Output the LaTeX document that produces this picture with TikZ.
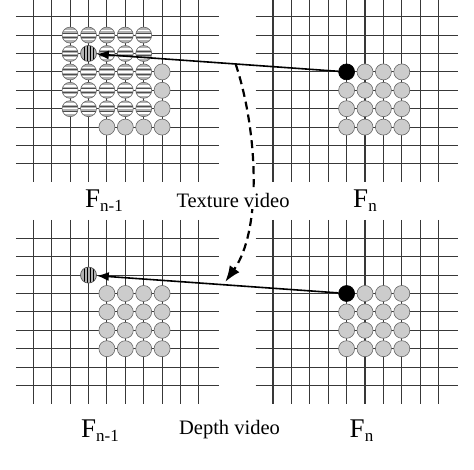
\documentclass[tikz,border=0pt]{standalone}
\usepackage{fontspec}
\setmainfont{Liberation Serif}
\usetikzlibrary{arrows.meta,calc}

% frame label F with lowered index
\newcommand{\frm}[1]{{\fontsize{27}{30}\selectfont F}\raisebox{-4pt}{\fontsize{17}{20}\selectfont #1}}

\begin{document}
\begin{tikzpicture}[x=1pt,y=-1pt,
  gline/.style={black!78,line width=1.1pt},
  pix/.style={circle,draw=black!60,line width=0.6pt,minimum size=16pt,inner sep=0pt},
  gpix/.style={pix,fill=gray!40},
  bpix/.style={pix,draw=black,fill=black},
  hpix/.style={pix,fill=gray!60,path picture={
    \foreach \k in {-4.5,0,4.5} \draw[white,line width=1.6pt] ([yshift=\k pt]path picture bounding box.west) -- ([yshift=\k pt]path picture bounding box.east);
    \foreach \k in {-2.25,2.25} \draw[black!70,line width=0.5pt] ([yshift=\k pt]path picture bounding box.west) -- ([yshift=\k pt]path picture bounding box.east);}},
  vpix/.style={pix,draw=black!70,fill=gray!60,path picture={
    \foreach \k in {-4.5,-1.5,1.5,4.5} \draw[black,line width=0.9pt] ([xshift=\k pt]path picture bounding box.north) -- ([xshift=\k pt]path picture bounding box.south);}},
  mv/.style={line width=1.6pt,-{Latex[length=12pt,width=9pt]}},
  dv/.style={line width=2.2pt,dash pattern=on 8pt off 5pt,-{Latex[length=16pt,width=12pt]}},
  lab/.style={anchor=base,inner sep=1pt,fill=white,font=\fontsize{20.5}{24}\selectfont}]
\useasboundingbox (0,0) rectangle (474,470);

% the four pixel grids
\foreach \ox/\oy in {33.3/16.7, 273/16.7, 33.3/238.3, 273/238.3}{
  \begin{scope}[shift={(\ox,\oy)},x=18.4pt,y=-18.4pt]
    \foreach \i in {0,...,9} \draw[gline] (\i,-1) -- (\i,9);
    \foreach \j in {0,...,8} \draw[gline] (-0.95,\j) -- (10.07,\j);
  \end{scope}}

% texture, frame n-1
\begin{scope}[shift={(33.3,16.7)},x=18.4pt,y=-18.4pt]
  \foreach \i in {2,...,6} \foreach \j in {1,...,5}{\ifnum\i\j=32\relax\else\node[hpix] (tl-\i-\j) at (\i,\j) {};\fi}
  \foreach \i/\j in {7/3,7/4,7/5,4/6,5/6,6/6,7/6} \node[gpix] (tl-\i-\j) at (\i,\j) {};
  \node[vpix] (refT) at (3,2) {};
\end{scope}

% texture, frame n
\begin{scope}[shift={(273,16.7)},x=18.4pt,y=-18.4pt]
  \foreach \i in {4,...,7} \foreach \j in {3,...,6}{\ifnum\i\j=43\relax\else\node[gpix] (tr-\i-\j) at (\i,\j) {};\fi}
  \node[bpix] (curT) at (4,3) {};
\end{scope}

% depth, frame n-1
\begin{scope}[shift={(33.3,238.3)},x=18.4pt,y=-18.4pt]
  \foreach \i in {4,...,7} \foreach \j in {3,...,6} \node[gpix] (bl-\i-\j) at (\i,\j) {};
  \node[vpix] (refD) at (3,2) {};
\end{scope}

% depth, frame n
\begin{scope}[shift={(273,238.3)},x=18.4pt,y=-18.4pt]
  \foreach \i in {4,...,7} \foreach \j in {3,...,6}{\ifnum\i\j=43\relax\else\node[gpix] (br-\i-\j) at (\i,\j) {};\fi}
  \node[bpix] (curD) at (4,3) {};
\end{scope}

% motion vectors
\draw[mv] (curT) -- (refT);
\draw[mv] (curD) -- (refD);

% reuse of the texture vector
\coordinate (dsT) at ($(curT)!0.43!(refT)$);
\coordinate (dsD) at ($(curD)!0.47!(refD)+(0,-3)$);
\draw[dv] (dsT) .. controls +(22,66) and +(37,-52) .. (dsD);

% labels
\node[lab] (lTL) at (104,208) {\frm{n-1}};
\node[lab] (lTex) at (233,207.5) {Texture video};
\node[lab] (lTR) at (365,208) {\frm{n}};
\node[lab] (lBL) at (100,437) {\frm{n-1}};
\node[lab] (lDep) at (229.5,434) {Depth video};
\node[lab] (lBR) at (361.5,437) {\frm{n}};
\end{tikzpicture}
\end{document}
